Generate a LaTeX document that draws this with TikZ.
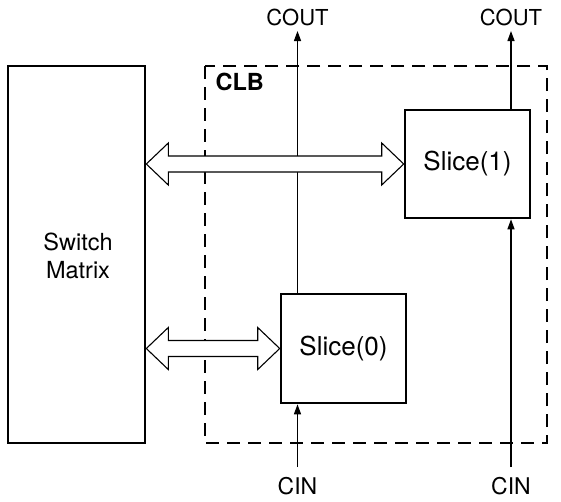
\documentclass[tikz,border=0pt]{standalone}
\usepackage{fontspec}
\setmainfont{TeX Gyre Heros}
\usetikzlibrary{calc,arrows.meta}
\begin{document}
\begin{tikzpicture}[x=1pt,y=-1pt,
  box/.style={draw,line width=2.6pt,inner sep=0pt},
  clbbox/.style={draw,line width=2.6pt,dash pattern=on 13pt off 8pt},
  wire/.style={line width=1.3pt,-{Triangle[length=10pt,width=7pt]}},
  lbl/.style={font=\fontsize{22}{26}\selectfont},
  slbl/.style={font=\fontsize{26}{30}\selectfont},
  fat/.style={draw,line width=1.1pt,fill=white}]
\useasboundingbox (0,0) rectangle (561,501);
% boxes
\node[box,minimum width=137pt,minimum height=377pt] (sm) at (76.5,254.5) {};
\node[font=\fontsize{23.5}{28}\selectfont,align=center] (smt) at (78,256) {Switch\\Matrix};
\draw[clbbox] (205,66) rectangle (547,443);
\coordinate (clb) at (205,66);
\node[font=\fontsize{23.5}{28}\selectfont\bfseries,anchor=north west] (clbt) at (212,70) {CLB};
\node[box,minimum width=125pt,minimum height=108pt,slbl] (s1) at (467.5,164) {Slice(1)};
\node[box,minimum width=125pt,minimum height=109pt,slbl] (s0) at (343.5,348.5) {Slice(0)};
% labels
\node[lbl] (c0) at (297.5,17) {COUT};
\node[lbl] (c1) at (511,17) {COUT};
\node[font=\fontsize{23}{27}\selectfont] (i0) at (297.5,486) {CIN};
\node[font=\fontsize{23}{27}\selectfont] (i1) at (511,486) {CIN};
\coordinate (c0b) at (297.5,31);
\coordinate (c1b) at (511,31);
\coordinate (i0t) at (297.5,467);
\coordinate (i1t) at (511,467);
% wires
\draw[wire] (s0.north -| c0b) -- (c0b);
\draw[wire] (s1.north -| c1b) -- (c1b);
\draw[wire] (i0t) -- (s0.south -| i0t);
\draw[wire] (i1t) -- (s1.south -| i1t);
% fat double arrows
\newcommand{\fatarrow}[2]{%
  \draw[fat] let \p1=(#1), \p2=(#2) in
    (\x1,\y1) -- (\x1+22pt,\y1+21pt) -- (\x1+22pt,\y1+8pt) -- (\x2-22pt,\y1+8pt)
    -- (\x2-22pt,\y1+21pt) -- (\x2,\y1) -- (\x2-22pt,\y1-21pt) -- (\x2-22pt,\y1-8pt)
    -- (\x1+22pt,\y1-8pt) -- (\x1+22pt,\y1-21pt) -- cycle;}
\fatarrow{sm.east |- s1.west}{s1.west}
\fatarrow{sm.east |- s0.west}{s0.west}
\end{tikzpicture}
\end{document}
